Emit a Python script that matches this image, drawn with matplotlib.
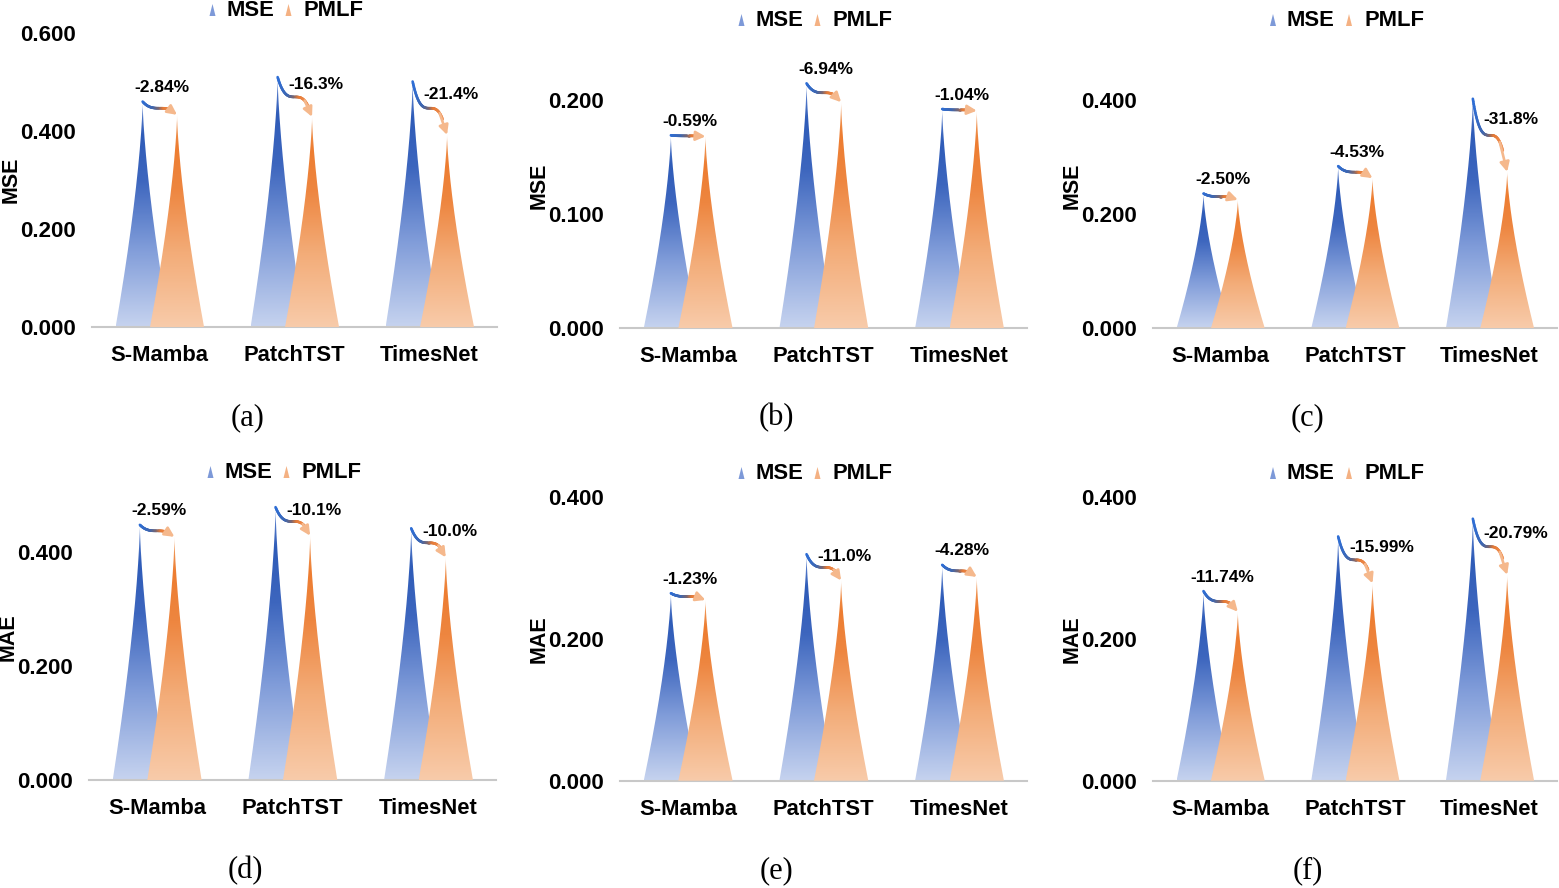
import numpy as np
import matplotlib
matplotlib.use("Agg")
import matplotlib.pyplot as plt
from matplotlib.path import Path
from matplotlib.patches import PathPatch, Polygon, FancyArrowPatch
from matplotlib.collections import LineCollection
from matplotlib.colors import LinearSegmentedColormap

plt.rcParams['font.family'] = ['Liberation Sans', 'DejaVu Sans']
plt.rcParams['font.weight'] = 'bold'

W, H = 1559, 888

models = ['S-Mamba', 'PatchTST', 'TimesNet']

# (a)-(c): MSE, (d)-(f): MAE ; baseline vs PMLF
base_a = [0.460, 0.510, 0.501]
pmlf_a = [0.433, 0.429, 0.392]
pct_a = ['-2.84%', '-16.3%', '-21.4%']

base_b = [0.169, 0.2145, 0.192]
pmlf_b = [0.168, 0.198, 0.1905]
pct_b = ['-0.59%', '-6.94%', '-1.04%']

base_c = [0.236, 0.284, 0.402]
pmlf_c = [0.225, 0.263, 0.274]
pct_c = ['-2.50%', '-4.53%', '-31.8%']

base_d = [0.447, 0.478, 0.441]
pmlf_d = [0.426, 0.428, 0.390]
pct_d = ['-2.59%', '-10.1%', '-10.0%']

base_e = [0.264, 0.319, 0.304]
pmlf_e = [0.2545, 0.282, 0.287]
pct_e = ['-1.23%', '-11.0%', '-4.28%']

base_f = [0.267, 0.344, 0.369]
pmlf_f = [0.238, 0.278, 0.290]
pct_f = ['-11.74%', '-15.99%', '-20.79%']

panels = [
    # base, pmlf, pct, ylabel, yticks, ymax, caption
    (base_a, pmlf_a, pct_a, 'MSE', [0, 0.2, 0.4, 0.6], 0.6, '(a)'),
    (base_b, pmlf_b, pct_b, 'MSE', [0, 0.1, 0.2], 0.25, '(b)'),
    (base_c, pmlf_c, pct_c, 'MSE', [0, 0.2, 0.4], 0.5, '(c)'),
    (base_d, pmlf_d, pct_d, 'MAE', [0, 0.2, 0.4], 0.5, '(d)'),
    (base_e, pmlf_e, pct_e, 'MAE', [0, 0.2, 0.4], 0.4, '(e)'),
    (base_f, pmlf_f, pct_f, 'MAE', [0, 0.2, 0.4], 0.4, '(f)'),
]

# pixel layout: left, right, y of zero, y of ymax, legend y, caption y
layout = [
    (92, 497, 327, 33, 10, 418),
    (620, 1027, 328.3, 42.8, 20, 418),
    (1153, 1557, 328.3, 42.8, 20, 418),
    (89, 496, 780, 494.6, 472, 871),
    (620, 1027, 780.7, 496.7, 473, 871),
    (1153, 1557, 780.7, 496.7, 473, 871),
]

blue_cmap = LinearSegmentedColormap.from_list('b', [
    (0.0, '#C6D3EF'), (0.35, '#809CD9'), (0.65, '#3D66BE'), (0.85, '#2F5CB8'),
    (0.96, '#5A7FCC'), (1.0, '#DDE5F6')])
orange_cmap = LinearSegmentedColormap.from_list('o', [
    (0.0, '#F8CBAA'), (0.35, '#F3AC78'), (0.65, '#EE8640'), (0.85, '#ED7D31'),
    (0.96, '#F09A5C'), (1.0, '#FBE3D2')])
arrow_cmap = LinearSegmentedColormap.from_list('arr', [
    (0.0, '#2E6ED6'), (0.3, '#3F66B0'), (0.48, '#7A6670'), (0.62, '#E57A36'),
    (0.85, '#F08E50'), (1.0, '#F4B183')])

HALF = 0.2


def spike(ax, xc, h, cmap, z):
    t = np.linspace(0, 1, 80)
    wid = HALF * (1 - t) ** 1.45
    xs = np.concatenate([xc - wid, (xc + wid)[::-1]])
    ys = np.concatenate([t * h, (t * h)[::-1]])
    verts = np.column_stack([xs, ys])
    patch = PathPatch(Path(verts), facecolor='none', edgecolor='none', zorder=z)
    ax.add_patch(patch)
    grad = np.linspace(0, 1, 256).reshape(-1, 1)
    im = ax.imshow(grad, cmap=cmap, origin='lower', aspect='auto',
                   extent=[xc - HALF, xc + HALF, 0, h], zorder=z, interpolation='bilinear')
    im.set_clip_path(patch)


def curved_arrow(ax, x0, y0, x1, y1):
    t = np.linspace(0, 1, 80)
    s = 0.5 + 0.5 * (2 * t - 1) ** 3
    xs = x0 + (x1 - x0) * t
    ys = y0 + (y1 - y0) * s
    n = 70
    pts = np.column_stack([xs[:n], ys[:n]]).reshape(-1, 1, 2)
    segs = np.concatenate([pts[:-1], pts[1:]], axis=1)
    lc = LineCollection(segs, cmap=arrow_cmap, linewidths=1.9, zorder=6, capstyle='round')
    lc.set_array(t[:n - 1])
    lc.set_clim(0, 1)
    ax.add_collection(lc)
    arr = FancyArrowPatch((xs[n - 8], ys[n - 8]), (xs[-1], ys[-1]), arrowstyle='-|>',
                          mutation_scale=14, color='#F5B88C', lw=1.9,
                          shrinkA=0, shrinkB=0, zorder=7)
    ax.add_patch(arr)


fig = plt.figure(figsize=(W / 100, H / 100), dpi=100)


def fx(px):
    return px / W


def fy(py):
    return 1 - py / H


for (base, pmlf, pct, ylab, yticks, ymax, cap), (l, r, y0, yt, ly, cy) in zip(panels, layout):
    ax = fig.add_axes([fx(l), fy(y0), fx(r) - fx(l), fy(yt) - fy(y0)])
    x = np.arange(len(models))
    for i in x:
        spike(ax, i - 0.125, base[i], blue_cmap, 2)
        spike(ax, i + 0.13, pmlf[i], orange_cmap, 3)
    ax.set_xlim(-0.5, len(models) - 0.5)
    ax.set_ylim(0, ymax)
    ax.set_yticks(yticks)
    ax.set_yticklabels(['%.3f' % v for v in yticks], fontsize=16)
    ax.set_xticks(x)
    ax.set_xticklabels(models, fontsize=15.8)
    ax.tick_params(axis='both', length=0)
    ax.tick_params(axis='y', pad=11.5)
    ax.tick_params(axis='x', pad=13)
    for sp in ['top', 'right', 'left']:
        ax.spines[sp].set_visible(False)
    ax.spines['bottom'].set_color('#C8C8C8')
    ax.spines['bottom'].set_linewidth(1.5)
    ax.patch.set_alpha(0)

    for i in x:
        xb, yb = i - 0.125, base[i]
        xo, yo = i + 0.13, pmlf[i]
        curved_arrow(ax, xb, yb, xo, yo)
        pb = ax.transData.transform((xb, yb))
        po = ax.transData.transform((xo, yo))
        drop = pb[1] - po[1]
        if drop < 25:
            ax.annotate(pct[i], ((pb[0] + po[0]) / 2 + 2, pb[1] + 14), xycoords='figure pixels',
                        ha='center', va='center', fontsize=12.5, fontweight='bold')
        else:
            ax.annotate(pct[i], (pb[0] + 11, pb[1] - (0.4 * drop - 8)), xycoords='figure pixels',
                        ha='left', va='center', fontsize=12.5, fontweight='bold')

    cx = (l + r) / 2
    fig.text(fx(l - 81), fy((y0 + yt) / 2), ylab, rotation=90, ha='center', va='center',
             fontsize=15.5, fontweight='bold')
    # legend
    for mx, col in [(cx - 82, '#7D99D8'), (cx - 6, '#F4B183')]:
        tri = Polygon([(fx(mx - 3), fy(ly + 6)), (fx(mx), fy(ly - 6)), (fx(mx + 3), fy(ly + 6))],
                      closed=True, transform=fig.transFigure, facecolor=col, edgecolor='none')
        fig.add_artist(tri)
    fig.text(fx(cx - 68), fy(ly), 'MSE', ha='left', va='center', fontsize=15.8, fontweight='bold')
    fig.text(fx(cx + 9), fy(ly), 'PMLF', ha='left', va='center', fontsize=15.8, fontweight='bold')
    fig.text(fx(cx - 47), fy(cy), cap, ha='center', va='center', fontsize=22,
             family=['Liberation Serif'], fontweight='normal')

fig.savefig('out.png', dpi=100)
